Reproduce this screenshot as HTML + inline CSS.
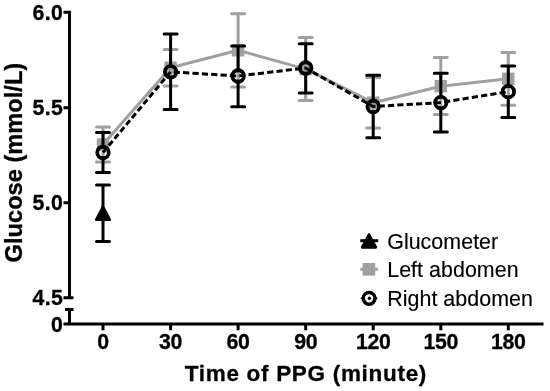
<!DOCTYPE html>
<html><head><meta charset="utf-8"><title>Glucose vs Time of PPG</title>
<style>html,body{margin:0;padding:0;background:#fff}</style></head>
<body>
<svg width="550" height="391" viewBox="0 0 550 391" style="display:block">
<rect width="550" height="391" fill="#fff"/>
<g stroke="#a0a0a0" stroke-width="3" fill="none" stroke-linecap="round">
<path d="M103 127V162M96.5 127H109.5M96.5 162H109.5"/>
<path d="M170.6 49.4V86M164.1 49.4H177.1M164.1 86H177.1"/>
<path d="M238.1 13.8V86.9M231.6 13.8H244.6M231.6 86.9H244.6"/>
<path d="M305.7 37.6V100.6M299.2 37.6H312.2M299.2 100.6H312.2"/>
<path d="M373.2 77.4V128.1M366.7 77.4H379.7M366.7 128.1H379.7"/>
<path d="M440.8 57.6V114.6M434.3 57.6H447.3M434.3 114.6H447.3"/>
<path d="M508.3 52.4V105.2M501.8 52.4H514.8M501.8 105.2H514.8"/>
<polyline points="103,144.5 170.6,67.7 238.1,50.3 305.7,69.1 373.2,102.7 440.8,86.2 508.3,78.8" stroke-linejoin="round"/>
</g>
<rect x="96.8" y="138.3" width="12.4" height="12.4" fill="#a0a0a0"/>
<rect x="164.4" y="61.5" width="12.4" height="12.4" fill="#a0a0a0"/>
<rect x="231.9" y="44.099999999999994" width="12.4" height="12.4" fill="#a0a0a0"/>
<rect x="299.5" y="62.89999999999999" width="12.4" height="12.4" fill="#a0a0a0"/>
<rect x="367.0" y="96.5" width="12.4" height="12.4" fill="#a0a0a0"/>
<rect x="434.6" y="80.0" width="12.4" height="12.4" fill="#a0a0a0"/>
<rect x="502.1" y="72.6" width="12.4" height="12.4" fill="#a0a0a0"/>
<g stroke="#000" stroke-width="3" fill="none" stroke-linecap="round">
<path d="M103 132.6V146.75M103 158.25V172.5M96.5 132.6H109.5M96.5 172.5H109.5"/>
<path d="M170.6 34.1V66.05M170.6 77.55V109.5M164.1 34.1H177.1M164.1 109.5H177.1"/>
<path d="M238.1 46V70.25M238.1 81.75V106.8M231.6 46H244.6M231.6 106.8H244.6"/>
<path d="M305.7 43.8V62.25M305.7 73.75V92.9M299.2 43.8H312.2M299.2 92.9H312.2"/>
<path d="M373.2 75.3V100.75M373.2 112.25V137.7M366.7 75.3H379.7M366.7 137.7H379.7"/>
<path d="M440.8 73.2V96.85M440.8 108.35V132.1M434.3 73.2H447.3M434.3 132.1H447.3"/>
<path d="M508.3 65.9V85.95M508.3 97.45V117.5M501.8 65.9H514.8M501.8 117.5H514.8"/>
<line x1="103" y1="152.5" x2="170.6" y2="71.8" stroke-linecap="butt" stroke-dasharray="6 3.02"/>
<polyline points="170.6,71.8 238.1,76 305.7,68 373.2,106.5 440.8,102.6 508.3,91.7" stroke-linecap="butt" stroke-linejoin="round" stroke-dasharray="6.25 3.126" stroke-dashoffset="6.25"/>
<circle cx="103" cy="152.5" r="5.75" stroke-width="3.8"/>
<circle cx="170.6" cy="71.8" r="5.75" stroke-width="3.8"/>
<circle cx="238.1" cy="76" r="5.75" stroke-width="3.8"/>
<circle cx="305.7" cy="68" r="5.75" stroke-width="3.8"/>
<circle cx="373.2" cy="106.5" r="5.75" stroke-width="3.8"/>
<circle cx="440.8" cy="102.6" r="5.75" stroke-width="3.8"/>
<circle cx="508.3" cy="91.7" r="5.75" stroke-width="3.8"/>
<path d="M103 185V241.4M96.5 185H109.5M96.5 241.4H109.5"/>
</g>
<path d="M103 207.3L109.6 219.6H96.4Z" fill="#000" stroke="#000" stroke-width="3" stroke-linejoin="round"/>
<g stroke="#000" stroke-width="3" fill="none">
<path d="M69.5 10.7V299.2M63.5 12.2H71M63.5 107.7H69.5M63.5 202.7H69.5M63.5 297.7H73.5"/>
<path d="M69.5 308V325.5M65 309.4H73.5M63.5 324H543.5"/>
<path d="M103 324V330.3"/>
<path d="M170.6 324V330.3"/>
<path d="M238.1 324V330.3"/>
<path d="M305.7 324V330.3"/>
<path d="M373.2 324V330.3"/>
<path d="M440.8 324V330.3"/>
<path d="M508.3 324V330.3"/>
</g>
<g stroke-width="3" fill="none">
<path d="M360.3 240.7H378.2" stroke="#000"/>
<path d="M360.3 269.2H378" stroke="#a0a0a0"/>
</g>
<path d="M369 234.9L375.6 247.2H362.4Z" fill="#000" stroke="#000" stroke-width="3" stroke-linejoin="round"/>
<rect x="362.6" y="263" width="12.6" height="12.6" fill="#a0a0a0"/>
<path d="M360.8 298.3H363M375 298.3H377.3" stroke="#000" stroke-width="1.6"/>
<circle cx="369.1" cy="298.3" r="5.9" fill="none" stroke="#000" stroke-width="3.5"/>
<circle cx="369.4" cy="298.3" r="1.7" fill="#000"/>
<g font-family="'Liberation Sans', sans-serif" fill="#000" stroke="#000" stroke-width="0.3" stroke-linejoin="round">
<g font-weight="bold" font-size="21.3" text-anchor="end" letter-spacing="0.3">
<text x="63.1" y="19.7">6.0</text>
<text x="63.1" y="115.3">5.5</text>
<text x="63.1" y="210.29999999999998">5.0</text>
<text x="63.1" y="305.3">4.5</text>
<text x="63.1" y="332.3">0</text>
</g>
<g font-weight="bold" font-size="21.3" text-anchor="middle" letter-spacing="-0.3">
<text x="103" y="348.9">0</text>
<text x="170.6" y="348.9">30</text>
<text x="238.1" y="348.9">60</text>
<text x="305.7" y="348.9">90</text>
<text x="373.2" y="348.9">120</text>
<text x="440.8" y="348.9">150</text>
<text x="508.3" y="348.9">180</text>
</g>
<text x="184.7" y="380.6" font-weight="bold" font-size="22.5" letter-spacing="0.7">Time of PPG (minute)</text>
<text transform="translate(21.9 162.6) rotate(-90) scale(0.985 1)" font-weight="bold" font-size="24" text-anchor="middle">Glucose (mmol/L)</text>
<g font-size="21.4" letter-spacing="0.05" stroke-width="0.15">
<text x="387.2" y="248.6">Glucometer</text>
<text x="387.2" y="277.1">Left abdomen</text>
<text x="387.2" y="306.1">Right abdomen</text>
</g></g>
</svg>
</body></html>
